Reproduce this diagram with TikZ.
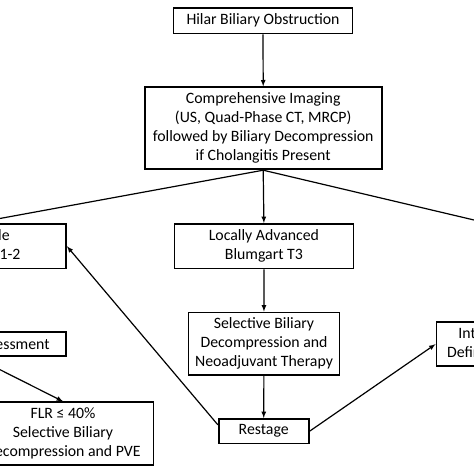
\documentclass[tikz,border=0pt]{standalone}
\usepackage{fontspec}
\setmainfont{Carlito}
\usetikzlibrary{arrows}

\begin{document}
\begin{tikzpicture}[x=1pt,y=-1pt,
	flow_box/.style={draw,line width=1.8pt,align=center,inner sep=2pt,font=\fontsize{15.8}{19}\selectfont},
	flow_arrow/.style={-latex,line width=1.2pt}]

		\useasboundingbox (0,0) rectangle (474,474);
		\clip (0,0) rectangle (474,474);

		\node[flow_box,minimum width=179pt,minimum height=25.5pt] (hilar) at (263,20.7) {Hilar Biliary Obstruction};
		\node[flow_box,minimum width=237pt,minimum height=82pt] (imaging) at (263.2,128.3) {Comprehensive Imaging\\(US, Quad-Phase CT, MRCP)\\followed by Biliary Decompression\\if Cholangitis Present};
		\node[flow_box,minimum width=182pt,minimum height=44.5pt] (resect) at (-25,246.2) {Resectable\\Blumgart T1-2};
		\node[flow_box,minimum width=179pt,minimum height=44.5pt] (locally) at (263.9,246.2) {Locally Advanced\\Blumgart T3};
		\node[flow_box,minimum width=151pt,minimum height=62.5pt] (selective) at (264,343.7) {Selective Biliary\\Decompression and\\Neoadjuvant Therapy};
		\node[flow_box,minimum width=90pt,minimum height=24.5pt] (restage) at (263.7,431.2) {Restage};
		\node[flow_box,minimum width=182pt,minimum height=24pt] (assess) at (-25,344.2) {Volumetric Assessment};
		\node[flow_box,minimum width=181pt,minimum height=63pt] (flr) at (63,433.8) {FLR ≤ 40\%\\Selective Biliary\\Decompression and PVE};
		\node[flow_box,minimum width=135pt,minimum height=44pt] (intra) at (503.9,344.2) {Intraoperative\\Definitive Surgery};
		\coordinate (right_end) at (488,223.3);

		\draw[flow_arrow] (hilar.south) -- (imaging.north);
		\draw[flow_arrow] (imaging.south) -- (resect.north);
		\draw[flow_arrow] (imaging.south) -- (right_end);
		\draw[flow_arrow] (imaging.south) -- (locally.north);
		\draw[flow_arrow] (locally) -- (selective);
		\draw[flow_arrow] (selective) -- (restage);
		\draw[flow_arrow] (restage.172) -- (resect.east);
		\draw[flow_arrow] (restage.east) -- (intra.west);
		\draw[flow_arrow] (assess.south) -- (flr.north);
		\end{tikzpicture}
\end{document}
